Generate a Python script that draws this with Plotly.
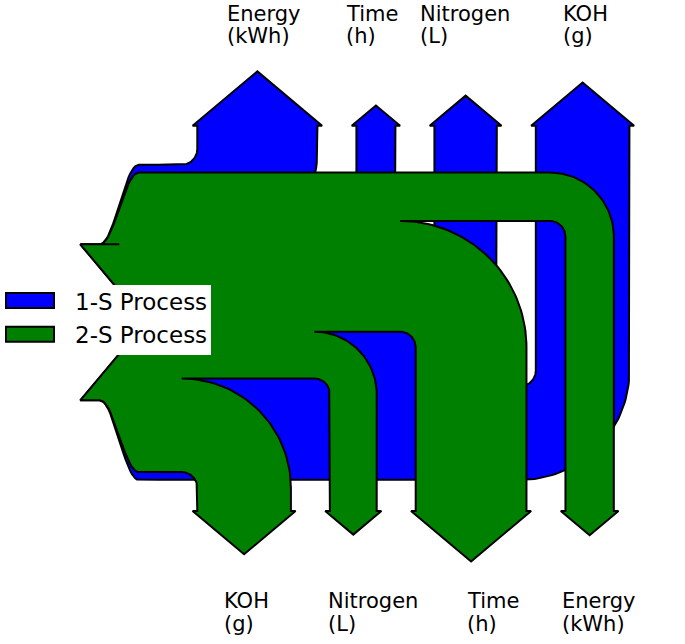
import numpy as np
import plotly.graph_objects as go

# ---------------- data ----------------
flow_names = ["Energy", "Time", "Nitrogen", "KOH"]
flow_units = ["(kWh)", "(h)", "(L)", "(g)"]
series_names = ["1-S Process", "2-S Process"]
s1_input = [1.0]
s1_outputs = [0.77, 0.25, 0.40, 0.60]   # Energy, Time, Nitrogen, KOH
s2_input = [1.0]
s2_outputs = [0.31, 0.71, 0.30, 0.60]   # Energy, Time, Nitrogen, KOH
series_colors = ["#0000ff", "#008000"]

# ---------------- Sankey geometry (matplotlib Sankey algorithm) ----------------
RIGHT, UP, DOWN = 0, 1, 3
ARC_VERTICES = np.array([[1.0, 0.0],
                         [1.0, 0.265114773],
                         [0.894571235, 0.519642327],
                         [0.707106781, 0.707106781],
                         [0.519642327, 0.894571235],
                         [0.265114773, 1.0],
                         [0.0, 1.0]])


class SankeyGeom:
    def __init__(self, scale=1.0, gap=0.25, radius=0.1, shoulder=0.03,
                 head_angle=100, tol=1e-6):
        self.scale = scale
        self.gap = gap
        self.radius = radius
        self.shoulder = shoulder
        self.pitch = np.tan(np.pi * (1 - head_angle / 180.0) / 2.0)
        self.tol = tol

    def _arc(self, quadrant=0, cw=True, radius=1, center=(0, 0)):
        if quadrant in (0, 2):
            v = ARC_VERTICES if cw else ARC_VERTICES[:, ::-1]
        else:
            if cw:
                v = np.column_stack((-ARC_VERTICES[:, 1], ARC_VERTICES[:, 0]))
            else:
                v = np.column_stack((-ARC_VERTICES[:, 0], ARC_VERTICES[:, 1]))
        if quadrant > 1:
            radius = -radius
        pts = radius * v + np.asarray(center, float)
        codes = ["L"] + ["C"] * 6
        return [(c, list(p)) for c, p in zip(codes, pts)]

    def _add_input(self, path, angle, flow, length):
        x, y = path[-1][1]
        dipdepth = (flow / 2) * self.pitch
        if angle == RIGHT:
            x -= length
            dip = [x + dipdepth, y + flow / 2.0]
            path.extend([("L", [x, y]), ("L", dip), ("L", [x, y + flow]),
                         ("L", [x + self.gap, y + flow])])
            return dip
        x -= self.gap
        sign = 1 if angle == UP else -1
        dip = [x - flow / 2, y - sign * (length - dipdepth)]
        quadrant = 2 if angle == DOWN else 1
        path.extend(self._arc(quadrant, angle == UP, self.radius,
                              (x + self.radius, y - sign * self.radius)))
        path.extend([("L", [x, y - sign * length]), ("L", dip),
                     ("L", [x - flow, y - sign * length])])
        path.extend(self._arc(quadrant, angle == DOWN, flow + self.radius,
                              (x + self.radius, y - sign * self.radius)))
        path.append(("L", [x - flow, y + sign * flow]))
        return dip

    def _add_output(self, path, angle, flow, length):
        x, y = path[-1][1]
        tipheight = (self.shoulder - flow / 2) * self.pitch
        if angle == RIGHT:
            x += length
            tip = [x + tipheight, y + flow / 2.0]
            path.extend([("L", [x, y]), ("L", [x, y + self.shoulder]), ("L", tip),
                         ("L", [x, y - self.shoulder + flow]), ("L", [x, y + flow]),
                         ("L", [x - self.gap, y + flow])])
            return tip
        x += self.gap
        if angle == UP:
            sign, quadrant = 1, 3
        else:
            sign, quadrant = -1, 0
        tip = [x - flow / 2.0, y + sign * (length + tipheight)]
        path.extend(self._arc(quadrant, angle == UP, self.radius,
                              (x - self.radius, y + sign * self.radius)))
        path.extend([("L", [x, y + sign * length]),
                     ("L", [x - self.shoulder, y + sign * length]),
                     ("L", tip),
                     ("L", [x + self.shoulder - flow, y + sign * length]),
                     ("L", [x - flow, y + sign * length])])
        path.extend(self._arc(quadrant, angle == DOWN, self.radius - flow,
                              (x - self.radius, y + sign * self.radius)))
        path.append(("L", [x - flow, y + sign * flow]))
        return tip

    @staticmethod
    def _revert(path, first_action="L"):
        out = []
        next_code = first_action
        for code, pos in path[::-1]:
            out.append((next_code, pos))
            next_code = code
        return out

    def add(self, flows, orientations, trunklength=1.0, pathlengths=0.25):
        flows = np.asarray(flows, float)
        n = len(flows)
        scaled = self.scale * flows
        gain = sum(max(f, 0) for f in scaled)
        loss = sum(min(f, 0) for f in scaled)
        are_inputs = [True if f >= self.tol else (False if f <= -self.tol else None)
                      for f in flows]
        angles = []
        for orient, inp in zip(orientations, are_inputs):
            if orient == 1:
                angles.append(DOWN if inp else (UP if inp is False else None))
            elif orient == 0:
                angles.append(RIGHT if inp is not None else None)
            else:
                angles.append(UP if inp else (DOWN if inp is False else None))
        # side arrows get zero length (as matplotlib does)
        lengths = [0.0] * n
        ur = ul = lr = ll = pathlengths
        for i, (a, inp, f) in enumerate(zip(angles, are_inputs, scaled)):
            if a == DOWN and inp:
                lengths[i] = ul
                ul += f
            elif a == UP and inp is False:
                lengths[i] = ur
                ur -= f
        for i in reversed(range(n)):
            a, inp, f = angles[i], are_inputs[i], scaled[i]
            if a == UP and inp:
                lengths[i] = ll
                ll += f
            elif a == DOWN and inp is False:
                lengths[i] = lr
                lr -= f
        g = self.gap
        t2 = trunklength / 2.0
        urpath = [("M", [g - t2, gain / 2.0]),
                  ("L", [(g - t2) / 2.0, gain / 2.0]),
                  ("C", [(g - t2) / 8.0, gain / 2.0]),
                  ("C", [(t2 - g) / 8.0, -loss / 2.0]),
                  ("L", [(t2 - g) / 2.0, -loss / 2.0]),
                  ("L", [(t2 - g), -loss / 2.0])]
        llpath = [("L", [(t2 - g), loss / 2.0]),
                  ("L", [(t2 - g) / 2.0, loss / 2.0]),
                  ("C", [(t2 - g) / 8.0, loss / 2.0]),
                  ("C", [(g - t2) / 8.0, -gain / 2.0]),
                  ("L", [(g - t2) / 2.0, -gain / 2.0]),
                  ("L", [(g - t2), -gain / 2.0])]
        lrpath = [("L", [(t2 - g), loss / 2.0])]
        ulpath = [("L", [g - t2, gain / 2.0])]
        tips = [[0.0, 0.0] for _ in range(n)]
        for i in range(n):
            a, inp = angles[i], are_inputs[i]
            if a == DOWN and inp:
                tips[i] = self._add_input(ulpath, a, scaled[i], lengths[i])
            elif a == UP and inp is False:
                tips[i] = self._add_output(urpath, a, scaled[i], lengths[i])
        for i in reversed(range(n)):
            a, inp = angles[i], are_inputs[i]
            if a == UP and inp:
                tips[i] = self._add_input(llpath, a, scaled[i], lengths[i])
            elif a == DOWN and inp is False:
                tips[i] = self._add_output(lrpath, a, scaled[i], lengths[i])
        has_left = False
        for i in reversed(range(n)):
            if angles[i] == RIGHT and are_inputs[i]:
                if not has_left:
                    if llpath[-1][1][0] > ulpath[-1][1][0]:
                        llpath.append(("L", [ulpath[-1][1][0], llpath[-1][1][1]]))
                    has_left = True
                tips[i] = self._add_input(llpath, RIGHT, scaled[i], lengths[i])
        has_right = False
        for i in range(n):
            if angles[i] == RIGHT and are_inputs[i] is False:
                if not has_right:
                    if urpath[-1][1][0] < lrpath[-1][1][0]:
                        urpath.append(("L", [lrpath[-1][1][0], urpath[-1][1][1]]))
                    has_right = True
                tips[i] = self._add_output(urpath, RIGHT, scaled[i], lengths[i])
        if not has_left:
            ulpath.pop()
            llpath.pop()
        if not has_right:
            lrpath.pop()
            urpath.pop()
        path = (urpath + self._revert(lrpath) + llpath + self._revert(ulpath)
                + [("Z", urpath[0][1])])
        return path, tips


def flatten(path, nseg=24):
    xs, ys = [], []
    cur = start = None
    i = 0
    while i < len(path):
        code, v = path[i]
        v = np.asarray(v, float)
        if code == "M":
            cur = start = v
            xs.append(v[0]); ys.append(v[1]); i += 1
        elif code == "L":
            cur = v
            xs.append(v[0]); ys.append(v[1]); i += 1
        elif code == "C":
            c1 = v
            c2 = np.asarray(path[i + 1][1], float)
            p = np.asarray(path[i + 2][1], float)
            for t in np.linspace(0, 1, nseg + 1)[1:]:
                b = ((1 - t) ** 3 * cur + 3 * (1 - t) ** 2 * t * c1
                     + 3 * (1 - t) * t ** 2 * c2 + t ** 3 * p)
                xs.append(b[0]); ys.append(b[1])
            cur = p
            i += 3
        else:  # close
            xs.append(start[0]); ys.append(start[1]); i += 1
    return xs, ys


geom = SankeyGeom()
diag1, tips1 = geom.add(flows=s1_input + [-v for v in s1_outputs],
                        orientations=[0, 1, 1, 1, 1])
diag2, tips2 = geom.add(flows=s2_input + [-v for v in s2_outputs],
                        orientations=[0, -1, -1, -1, -1])

# ---------------- figure ----------------
W, H = 685, 644
PX_PER_UNIT = 156.0
X0_PX, Y0_PX = 119.3, 322.3          # pixel position of the trunk centre
xr = [-X0_PX / PX_PER_UNIT, (W - X0_PX) / PX_PER_UNIT]
yr = [-(H - Y0_PX) / PX_PER_UNIT, Y0_PX / PX_PER_UNIT]


def px2x(px):
    return (px - X0_PX) / PX_PER_UNIT


def px2y(py):
    return (Y0_PX - py) / PX_PER_UNIT


fig = go.Figure()
for path, name, color in zip([diag1, diag2], series_names, series_colors):
    xs, ys = flatten(path)
    fig.add_trace(go.Scatter(x=xs, y=ys, mode="lines", fill="toself",
                             fillcolor=color, name=name, showlegend=False,
                             line=dict(color="black", width=2),
                             hoverinfo="skip"))

FONT = "DejaVu Sans"
LABEL_SIZE = 21
LEGEND_SIZE = 23
# label text placement (left edge of each label block in pixels)
top_left_px = [225, 344, 418, 561]
bottom_left_px = [560, 465, 326, 222]   # Energy, Time, Nitrogen, KOH (green)
top_line_px = [13.5, 36]
bottom_line_px = [600.5, 624]

annotations = []
for name, unit, lx in zip(flow_names, flow_units, top_left_px):
    for txt, ly in zip([name, unit], top_line_px):
        annotations.append(dict(x=px2x(lx), y=px2y(ly), text=txt, showarrow=False,
                                xanchor="left", yanchor="middle",
                                font=dict(family=FONT, size=LABEL_SIZE, color="black")))
for name, unit, lx in zip(flow_names, flow_units, bottom_left_px):
    for txt, ly in zip([name, unit], bottom_line_px):
        annotations.append(dict(x=px2x(lx), y=px2y(ly), text=txt, showarrow=False,
                                xanchor="left", yanchor="middle",
                                font=dict(family=FONT, size=LABEL_SIZE, color="black")))

# legend (drawn as a boxed key, like the original)
def pxx(px):
    return px / W


def pxy(py):
    return 1 - py / H


shapes = [dict(type="rect", xref="paper", yref="paper", layer="above",
               x0=pxx(0), x1=pxx(211), y0=pxy(355), y1=pxy(285),
               fillcolor="white", line=dict(width=0))]
legend_rows_px = [300.5, 334.2]
for name, color, ry in zip(series_names, series_colors, legend_rows_px):
    shapes.append(dict(type="rect", xref="paper", yref="paper", layer="above",
                       x0=pxx(6), x1=pxx(54), y0=pxy(ry + 7.5), y1=pxy(ry - 7.5),
                       fillcolor=color, line=dict(color="black", width=2)))
    annotations.append(dict(xref="paper", yref="paper", x=pxx(73), y=pxy(ry + 1),
                            text=name, showarrow=False, xanchor="left",
                            yanchor="middle",
                            font=dict(family=FONT, size=LEGEND_SIZE, color="black")))

fig.update_layout(
    width=W, height=H,
    margin=dict(l=0, r=0, t=0, b=0),
    paper_bgcolor="white", plot_bgcolor="white",
    xaxis=dict(range=xr, visible=False, fixedrange=True),
    yaxis=dict(range=yr, visible=False, fixedrange=True),
    showlegend=False,
    annotations=annotations,
    shapes=shapes,
)

fig.write_html("out.html", config={"displayModeBar": False},
               post_script="document.body.style.margin='0';")
